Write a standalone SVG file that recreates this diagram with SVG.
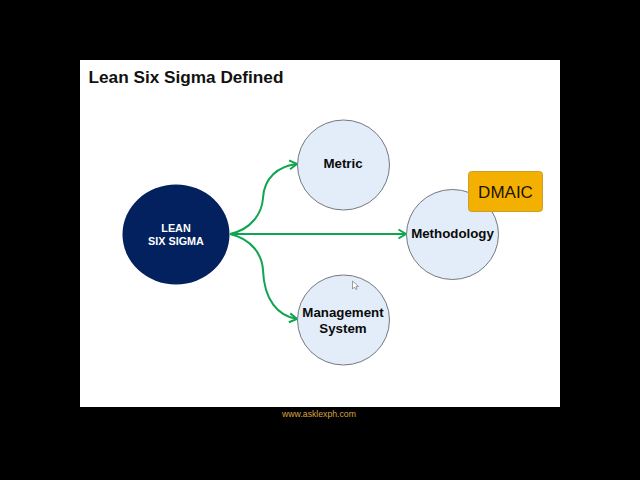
<svg xmlns="http://www.w3.org/2000/svg" width="640" height="480" viewBox="0 0 640 480">
<defs>
<style>
text{font-family:"Liberation Sans",Arial,sans-serif;text-anchor:middle}
.b{font-weight:700;font-size:13.300px;fill:#0a0a0a}
.c{fill:#e3edf9;stroke:#74797d;stroke-width:1}
.l{fill:none;stroke:#0fa550;stroke-width:2}
</style>
<marker id="a" markerUnits="userSpaceOnUse" markerWidth="12" markerHeight="12" refX="9" refY="6" orient="auto"><path d="M1.500 1.500L9 6L1.500 10.500" fill="none" stroke="#0fa550" stroke-width="2"/></marker>
</defs>
<rect width="640" height="480" fill="#000"/>
<rect x="80" y="60" width="480" height="347" fill="#fff"/>
<text x="186" y="83" style="font-weight:700;font-size:17.200px;fill:#111">Lean Six Sigma Defined</text>
<g id="connectors">
<path class="l" marker-end="url(#a)" d="M230 234C252 229 262 213 263 198C264 178 278 166 297 164"/>
<path class="l" marker-end="url(#a)" d="M230 234H406"/>
<path class="l" marker-end="url(#a)" d="M230 234C252 239 262 255 263 270C264 300 278 316 297 319"/>
</g>
<g id="lean"><ellipse cx="176" cy="234.500" rx="53.500" ry="50" fill="#03215f"/>
<text x="176" y="232" style="font-weight:700;font-size:10.800px;fill:#fff">LEAN</text>
<text x="176" y="245" style="font-weight:700;font-size:10.800px;fill:#fff">SIX SIGMA</text></g>
<g id="metric"><ellipse class="c" cx="343.500" cy="165" rx="46" ry="45"/><text class="b" x="343" y="168">Metric</text></g>
<g id="methodology"><ellipse class="c" cx="452.500" cy="234.500" rx="46" ry="45"/><text class="b" x="452.500" y="238">Methodology</text></g>
<g id="management"><ellipse class="c" cx="343.500" cy="320" rx="46" ry="45"/><text class="b" x="343" y="317">Management</text><text class="b" x="343" y="333">System</text></g>
<g id="dmaic"><rect x="468.500" y="171.500" width="74" height="40" rx="3" fill="#f4b000" stroke="#c9a030"/><text x="505.500" y="198" style="font-size:17px;fill:#1a1400">DMAIC</text></g>
<path d="M352.500 281v8l2-2 1.500 2.500 1-.5-1-2.500h2.500z" fill="#fff" stroke="#777" stroke-width=".7"/>
<text x="319" y="417" style="font-size:8.700px;fill:#d9a441">www.asklexph.com</text>
</svg>
